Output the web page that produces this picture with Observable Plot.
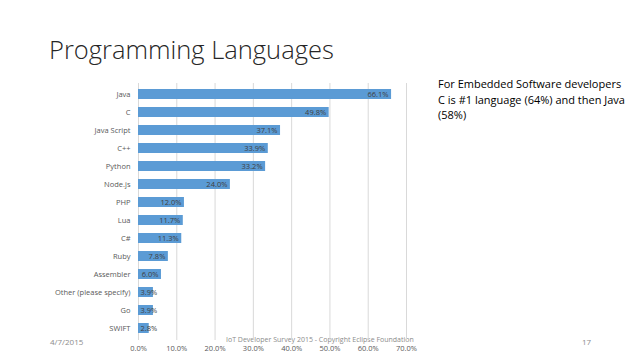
<!DOCTYPE html>
<html><head><meta charset="utf-8">
<script src="https://cdn.jsdelivr.net/npm/d3@7"></script>
<script src="https://cdn.jsdelivr.net/npm/@observablehq/plot@0.6"></script>
<style>
body{margin:0;width:638px;height:359px;background:#fff;position:relative;overflow:hidden;font-family:"Open Sans",sans-serif;}
#title{position:absolute;left:49px;top:32px;font-size:25.5px;font-weight:300;color:#262626;white-space:nowrap;font-family:"Open Sans";}
#note{position:absolute;left:438px;top:76px;font-size:11px;line-height:15.5px;color:#000;width:200px;}
.foot{position:absolute;top:335px;font-size:7px;color:#8c8c8c;white-space:nowrap;}
#chart{position:absolute;left:0;top:0;}
</style></head><body>
<div id="title">Programming Languages</div>
<div id="note">For Embedded Software developers<br>C is #1 language (64%) and then Java<br>(58%)</div>
<div class="foot" style="left:50px;font-size:8px;top:336px">4/7/2015</div>
<div class="foot" style="left:226px">IoT Developer Survey 2015 - Copyright Eclipse Foundation</div>
<div class="foot" style="left:582px;font-size:8px;top:336px">17</div>
<div id="chart"></div>
<script>
const languages = ["Java","C","Java Script","C++","Python","Node.js","PHP","Lua","C#","Ruby","Assembler","Other (please specify)","Go","SWIFT"];
const shares = [66.1,49.8,37.1,33.9,33.2,24.0,12.0,11.7,11.3,7.8,6.0,3.9,3.9,2.8];
const xTicks = [0,10,20,30,40,50,60,70];

const data = languages.map((l,i)=>({lang:l, v:shares[i]}));
const fmt = d => d.toFixed(1)+"%";
const fits = d => d.v >= 5.5;

const chart = Plot.plot({
  width: 420, height: 359,
  marginLeft: 138, marginRight: 14, marginTop: 83, marginBottom: 19,
  style:{fontFamily:"Open Sans, sans-serif", fontSize:"7.5px", color:"#595959", background:"transparent"},
  x:{domain:[0,70], ticks:xTicks, tickFormat:fmt, label:null, tickSize:0, tickPadding:5},
  y:{domain:languages, label:null, tickSize:0, tickPadding:8, paddingInner:0.42, paddingOuter:0.24},
  marks:[
    Plot.gridX(xTicks, {stroke:"#d9d9d9", strokeOpacity:1, strokeWidth:1}),
    Plot.barX(data, {x:"v", y:"lang", fill:"#5b9bd5"}),
    Plot.text(data.filter(fits), {x:"v", y:"lang", text:d=>fmt(d.v), textAnchor:"end", dx:-3, fill:"#404040", fontSize:7.5}),
    Plot.text(data.filter(d=>!fits(d)), {x:0, y:"lang", text:d=>fmt(d.v), textAnchor:"start", dx:2, fill:"#404040", fontSize:7.5})
  ]
});
document.getElementById("chart").appendChild(chart);
</script>
</body></html>
